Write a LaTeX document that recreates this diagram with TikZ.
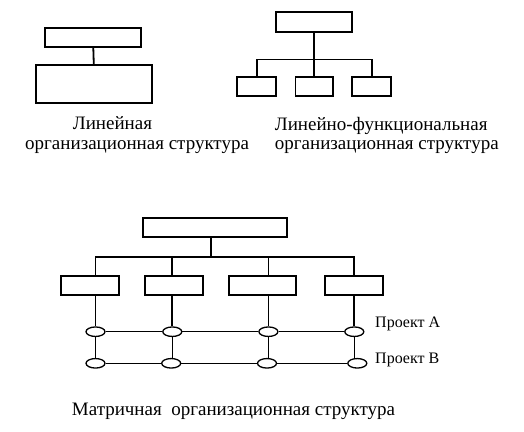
\documentclass[tikz,border=0pt]{standalone}
\usepackage{fontspec}
\setmainfont{Liberation Serif}
\usetikzlibrary{shapes.geometric}
\tikzset{
  box/.style={draw, line width=1.8pt, inner sep=0pt, rectangle},
  oval/.style={draw, ellipse, line width=1.3pt, inner sep=0pt, minimum width=19pt, minimum height=9.5pt},
  link/.style={line width=1.8pt},
  thin link/.style={line width=1.5pt},
  big/.style={inner sep=0pt, font=\fontsize{19}{21}\selectfont},
  small/.style={inner sep=0pt, font=\fontsize{16}{18}\selectfont},
}
\begin{document}
\begin{tikzpicture}[x=1pt, y=-1pt]
\useasboundingbox (0,0) rectangle (524,431);
% --- Linear structure
\node[box, minimum width=96pt, minimum height=19pt] (ltop) at (93.3,37.8) {};
\node[box, minimum width=115.7pt, minimum height=38pt] (lbot) at (93.8,84.3) {};
\draw[link] (ltop.south) -- (lbot.north);
\node[big, anchor=base west] (lt1) at (72.7,129.5) {Линейная};
\node[big, anchor=base west] (lt2) at (25,149.3) {организационная структура};
% --- Linear-functional structure
\node[box, minimum width=76pt, minimum height=20pt] (ftop) at (314.3,22.3) {};
\node[box, minimum width=39pt, minimum height=19pt] (fl) at (256.8,86.8) {};
\node[box, minimum width=37.7pt, minimum height=19pt] (fm) at (314.3,86.8) {};
\node[box, minimum width=39pt, minimum height=19pt] (fr) at (371.8,86.8) {};
\coordinate (fbar) at (314.3,59.5);
\draw[link] (ftop.south) -- (fbar);
\draw[link] (fl.north) |- (fbar) -| (fr.north);
\draw[link] (fbar) -- (fm.north);
\node[big, anchor=base west] (ft1) at (274.7,130) {Линейно-функциональная};
\node[big, anchor=base west] (ft2) at (274.7,149.3) {организационная структура};
% --- Matrix structure
\node[box, minimum width=144pt, minimum height=18.7pt] (mtop) at (215.3,227.7) {};
\coordinate (mbar) at (210.7,256.7);
\node[box, minimum width=58pt, minimum height=19pt] (b1) at (90.3,285.8) {};
\node[box, minimum width=58pt, minimum height=19pt] (b2) at (174.3,285.8) {};
\node[box, minimum width=66.7pt, minimum height=19pt] (b3) at (262.7,285.8) {};
\node[box, minimum width=58pt, minimum height=19pt] (b4) at (354.3,285.8) {};
\node[oval] (e11) at (95.5,331.7) {};
\node[oval] (e12) at (172.3,331.7) {};
\node[oval] (e13) at (268.4,331.7) {};
\node[oval] (e14) at (354.3,331.7) {};
\node[oval] (e21) at (95.5,363.3) {};
\node[oval] (e22) at (171.2,363.3) {};
\node[oval] (e23) at (267,363.3) {};
\node[oval] (e24) at (357.3,363.3) {};
\draw[link] (mtop.south -| mbar) -- (mbar);
\draw[link] (e11 |- b1.north) |- (mbar) -| (b4.north);
\draw[link] (e12 |- mbar) -- (e12 |- b2.north);
\draw[link] (e13 |- mbar) -- (e13 |- b3.north);
\draw[link] (e11 |- b1.south) -- (e11.north);
\draw[link] (e12 |- b2.south) -- (e12.north);
\draw[link] (e13 |- b3.south) -- (e13.north);
\draw[link] (b4.south) -- (e14.north);
\draw[thin link] (e11.south) -- (e21.north);
\draw[thin link] (e12.south) -- (e12 |- e22.north);
\draw[thin link] (e13.south) -- (e13 |- e23.north);
\draw[thin link] (e14.south) -- (e14 |- e24.north);
\draw[thin link] (e11.east) -- (e12.west);
\draw[thin link] (e12.east) -- (e13.west);
\draw[thin link] (e13.east) -- (e14.west);
\draw[thin link] (e21.east) -- (e22.west);
\draw[thin link] (e22.east) -- (e23.west);
\draw[thin link] (e23.east) -- (e24.west);
\node[small, anchor=base west] (pa) at (375,327.7) {Проект А};
\node[small, anchor=base west] (pb) at (375,363.3) {Проект В};
\node[big, anchor=base west] (mt) at (71.7,415) {Матричная\ \ организационная структура};
\end{tikzpicture}
\end{document}
